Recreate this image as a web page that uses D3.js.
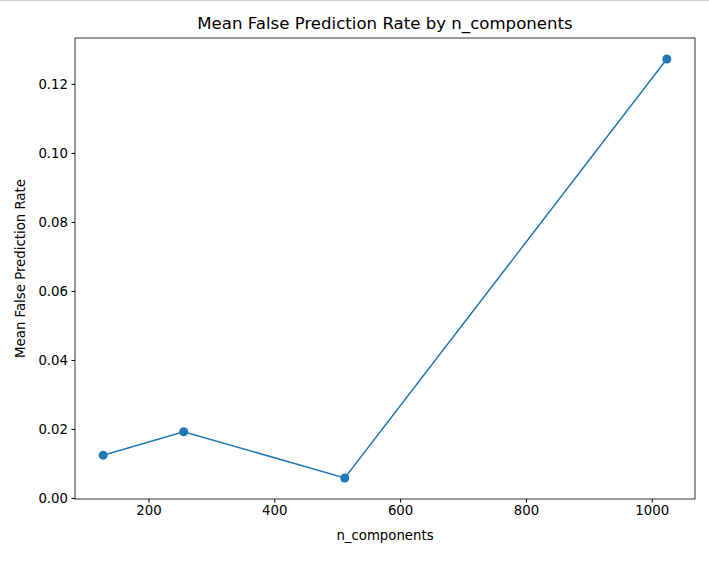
<!DOCTYPE html>
<html><head><meta charset="utf-8">
<script src="https://cdn.jsdelivr.net/npm/d3@7"></script>
<style>body{margin:0;background:#fff;font-family:"DejaVu Sans",sans-serif}</style>
</head><body><svg id="c" width="709" height="571"></svg>
<script>
const nComponents = [128, 256, 512, 1024];
const meanFalseRate = [0.0124, 0.0192, 0.0058, 0.1272];
const xTicks = [200, 400, 600, 800, 1000];
const yTicks = [0, 0.02, 0.04, 0.06, 0.08, 0.10, 0.12];

const svg = d3.select("#c");
const L = 75, R = 695, T = 38, B = 499;
const x = d3.scaleLinear().domain([83.2, 1068.8]).range([L, R]);
const y = d3.scaleLinear().domain([-0.0003, 0.1333]).range([B, T]);

svg.append("line").attr("x1",0).attr("x2",709).attr("y1",0.5).attr("y2",0.5).attr("stroke","#ccc");

const xa = svg.append("g").attr("transform",`translate(0,${B})`)
  .call(d3.axisBottom(x).tickValues(xTicks).tickFormat(d3.format("d")).tickSize(3.5).tickPadding(3.5));
const ya = svg.append("g").attr("transform",`translate(${L},0)`)
  .call(d3.axisLeft(y).tickValues(yTicks).tickFormat(d3.format(".2f")).tickSize(3.5).tickPadding(3.5));
[xa, ya].forEach(a => { a.selectAll(".domain").remove(); a.selectAll("text").attr("font-size",13.3).attr("fill","#000").attr("font-family","DejaVu Sans"); a.selectAll("line").attr("stroke","#000"); });

svg.append("rect").attr("x",L).attr("y",T).attr("width",R-L).attr("height",B-T).attr("fill","none").attr("stroke","#000").attr("stroke-width",0.8);

const pts = nComponents.map((d,i)=>[d, meanFalseRate[i]]);
svg.append("path").datum(pts).attr("fill","none").attr("stroke","#1f77b4").attr("stroke-width",1.5)
  .attr("d", d3.line().x(d=>x(d[0])).y(d=>y(d[1])));
svg.selectAll("circle.p").data(pts).enter().append("circle").attr("cx",d=>x(d[0])).attr("cy",d=>y(d[1])).attr("r",4.5).attr("fill","#1f77b4");

svg.append("text").attr("x",(L+R)/2).attr("y",29).attr("text-anchor","middle").attr("font-size",16.6).text("Mean False Prediction Rate by n_components");
svg.append("text").attr("x",(L+R)/2).attr("y",540).attr("text-anchor","middle").attr("font-size",13.3).text("n_components");
svg.append("text").attr("transform",`translate(25,${(T+B)/2}) rotate(-90)`).attr("text-anchor","middle").attr("font-size",13.3).text("Mean False Prediction Rate");
</script></body></html>
